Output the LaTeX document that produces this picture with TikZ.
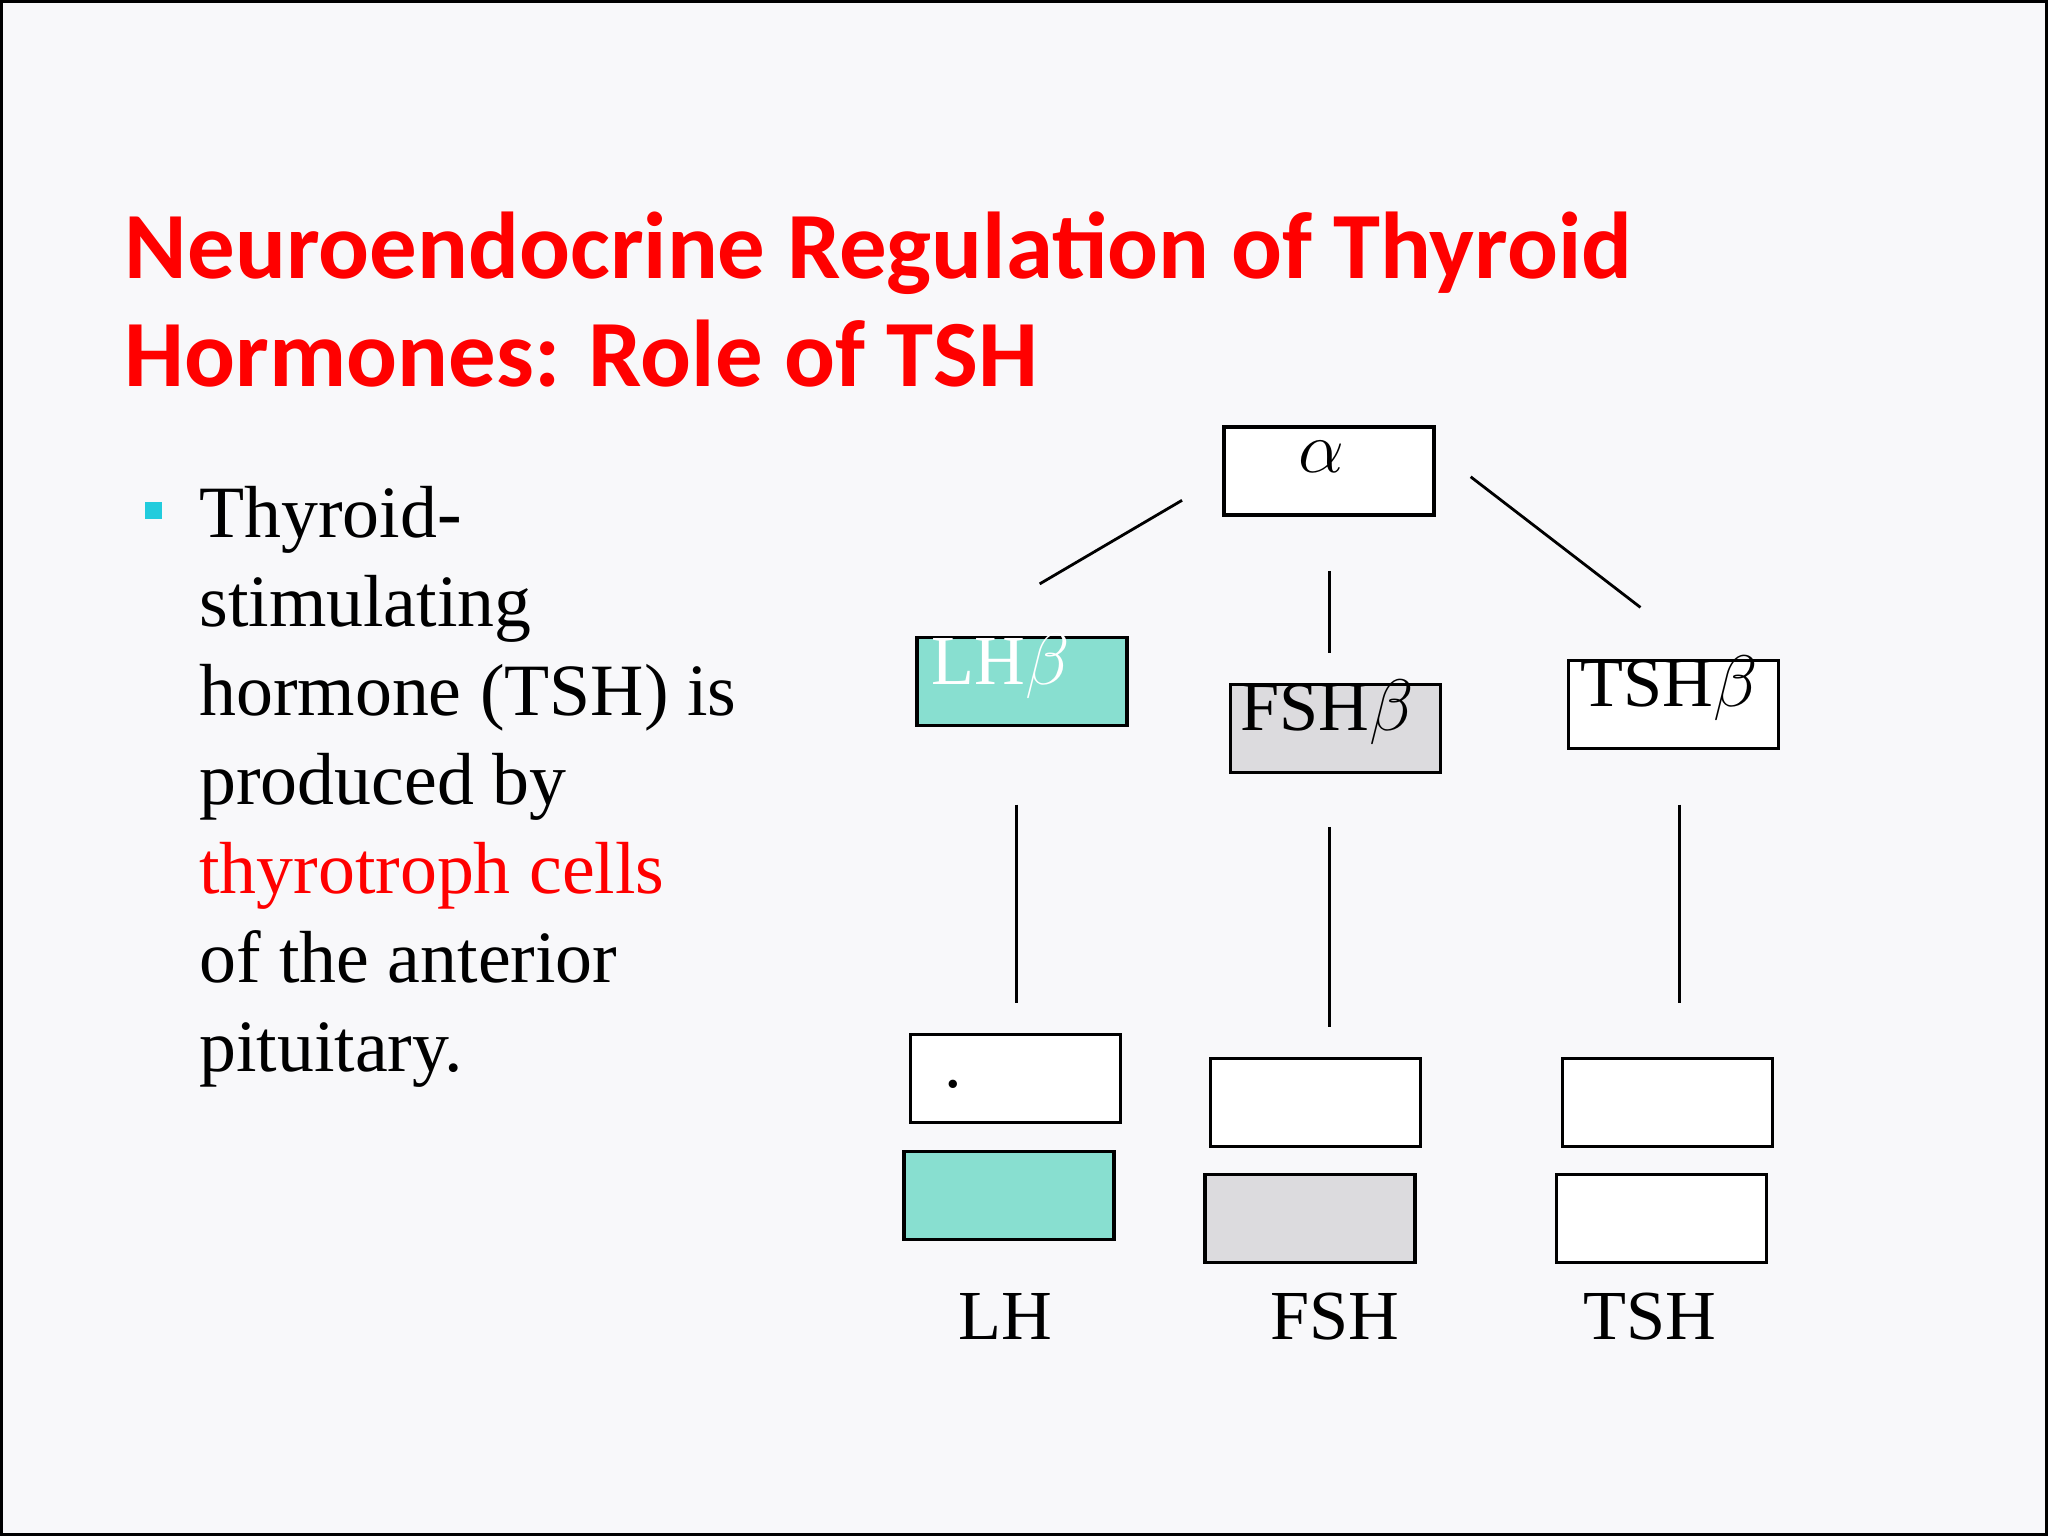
\documentclass[tikz,border=0pt]{standalone}
\usepackage{fontspec}
\setmainfont{Liberation Serif}
\newfontfamily\titlefont{Carlito}
\usetikzlibrary{positioning}
\definecolor{lhteal}{HTML}{88DFD0}
\definecolor{fshgray}{HTML}{DCDBDE}
\definecolor{slidebg}{HTML}{F8F8FA}
\definecolor{bulletcol}{HTML}{22CCDD}

\begin{document}
\begin{tikzpicture}[x=0.013061cm, y=-0.013061cm]
        \tikzstyle{boxStyle} = [draw=black, line width=0.9pt, minimum width=2.1cm, minimum height=0.88cm, inner sep=0pt]
        \tikzstyle{thinEdge} = [draw=black, line width=0.8pt]
        \tikzstyle{labelStyle} = [font=\fontsize{20}{24}\selectfont, inner sep=0pt]
        \fill[slidebg] (0,0) rectangle (1568,1176);
        \draw[line width=0.8pt] (1,1) rectangle (1567,1175);
        % title
        \node[anchor=base west, inner sep=0pt, text=red, font=\titlefont\bfseries\fontsize{27}{30}\selectfont] (t1) at (95,213) {Neuroendocrine Regulation of Thyroid};
        \node[anchor=base west, inner sep=0pt, text=red, font=\titlefont\bfseries\fontsize{27}{30}\selectfont] (t2) at (95,296) {Hormones: Role of TSH};
        % bullet
        \fill[bulletcol] (111,384) rectangle (124,397);
        \node[anchor=north west, inner sep=0pt, align=left, font=\fontsize{21}{25.3}\selectfont] (txt) at (152,372)
            {Thyroid-\\stimulating\\hormone (TSH) is\\produced by\\\textcolor{red}{thyrotroph cells}\\of the anterior\\pituitary.};
        % subunit boxes
        \node[boxStyle, fill=white] (alpha) at (1017.5,360.5) {};
        \node[labelStyle] at (1012,350) {$\alpha$};
        \node[boxStyle, fill=lhteal] (lhb) at (782.5,522) {};
        \node[labelStyle, text=white] at (766,510) {LH$\beta$};
        \node[boxStyle, fill=fshgray] (fshb) at (1022.5,557.5) {};
        \node[labelStyle] at (1016,545) {FSH$\beta$};
        \node[boxStyle, fill=white] (tshb) at (1281.5,539.5) {};
        \node[labelStyle] at (1278,527) {TSH$\beta$};
        % hormone boxes
        \node[boxStyle, fill=white] (lhtop) at (777.5,826) {};
        \node[labelStyle] at (730,830) {.};
        \node[boxStyle, fill=lhteal] (lhbot) at (772.5,915) {};
        \node[boxStyle, fill=white] (fshtop) at (1007.5,844) {};
        \node[boxStyle, fill=fshgray] (fshbot) at (1003,933) {};
        \node[boxStyle, fill=white] (tshtop) at (1276.5,844) {};
        \node[boxStyle, fill=white] (tshbot) at (1272,933) {};
        \node[labelStyle] (lh) at (770,1008) {LH};
        \node[labelStyle] (fsh) at (1022,1008) {FSH};
        \node[labelStyle] (tsh) at (1263,1008) {TSH};
        % connectors
        \coordinate (a1) at (905,383); \coordinate (b1) at (796,447);
        \coordinate (a2) at (1018,437); \coordinate (b2) at (1018,500);
        \coordinate (a3) at (1126,365); \coordinate (b3) at (1256,465);
        \coordinate (c1) at (778,616); \coordinate (d1) at (778,768);
        \coordinate (c2) at (1018,633); \coordinate (d2) at (1018,786);
        \coordinate (c3) at (1286,616); \coordinate (d3) at (1286,768);
        \foreach \from/\to in {a1/b1, a2/b2, a3/b3, c1/d1, c2/d2, c3/d3}
            \path[thinEdge] (\from) edge (\to);
\end{tikzpicture}
\end{document}
